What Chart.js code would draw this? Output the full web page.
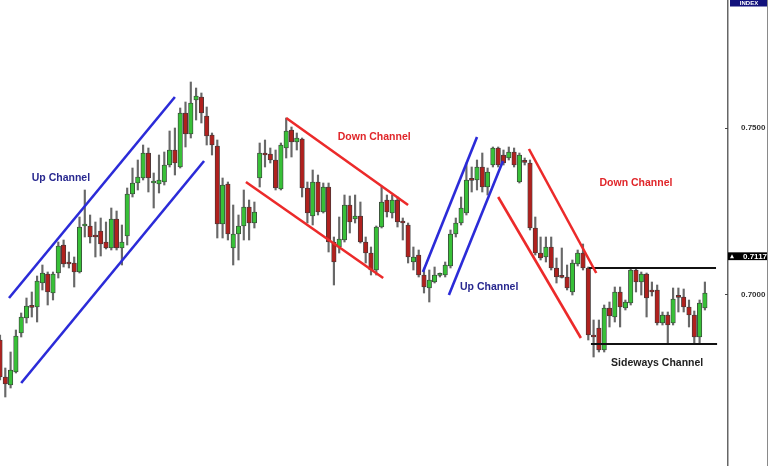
<!DOCTYPE html>
<html><head><meta charset="utf-8">
<script src="https://cdn.jsdelivr.net/npm/chart.js@4.4.0/dist/chart.umd.min.js"></script>
<style>html,body{margin:0;padding:0;background:#fff;overflow:hidden}#wrap{width:768px;height:466px;position:relative}</style>
</head><body><div id="wrap"><canvas id="c" width="768" height="466"></canvas></div>
<script>
// ---- candle data (price) ----
const open=[0.6863,0.6752,0.6728,0.6767,0.6884,0.6929,0.6962,0.6962,0.7034,0.7061,
0.7004,0.7064,0.7148,0.7094,0.7094,0.7067,0.7205,0.7205,0.7175,0.7190,
0.7157,0.7139,0.7226,0.7139,0.7175,0.7301,0.7334,0.7349,0.7424,0.7334,
0.7331,0.7337,0.7388,0.7433,0.7382,0.7544,0.7481,0.7583,0.7592,0.7535,
0.7478,0.7445,0.7211,0.7331,0.7139,0.7181,0.7205,0.7262,0.7214,0.7349,
0.7421,0.7421,0.7403,0.7316,0.7439,0.7493,0.7457,0.7466,0.7319,0.7235,
0.7337,0.7247,0.7322,0.7157,0.7142,0.7163,0.7268,0.7226,0.7235,0.7157,
0.7124,0.7073,0.7202,0.7283,0.7244,0.7283,0.7217,0.7208,0.7097,0.7118,
0.7058,0.7019,0.7037,0.7057,0.7058,0.7085,0.7181,0.7214,0.7244,0.7343,
0.7343,0.7382,0.7322,0.7388,0.7439,0.7418,0.7409,0.7427,0.7337,0.7397,
0.7394,0.7199,0.7124,0.7112,0.7142,0.7079,0.7052,0.7052,0.7007,0.7091,
0.7124,0.7079,0.6875,0.6899,0.6833,0.6959,0.6932,0.7007,0.6959,0.6974,
0.7073,0.7037,0.7061,0.7010,0.7013,0.6914,0.6938,0.6914,0.6992,0.6992,
0.6962,0.6938,0.6872,0.6959];
const high=[0.6878,0.6779,0.6827,0.6893,0.6944,0.6989,0.7007,0.7055,0.7088,0.7067,
0.7067,0.7157,0.7163,0.7127,0.7112,0.7232,0.7313,0.7238,0.7217,0.7229,
0.7217,0.7259,0.7250,0.7208,0.7319,0.7379,0.7403,0.7448,0.7439,0.7364,
0.7418,0.7427,0.7490,0.7499,0.7559,0.7577,0.7637,0.7619,0.7604,0.7562,
0.7484,0.7463,0.7349,0.7337,0.7268,0.7238,0.7313,0.7283,0.7277,0.7454,
0.7463,0.7439,0.7433,0.7454,0.7529,0.7502,0.7484,0.7469,0.7337,0.7373,
0.7358,0.7334,0.7334,0.7172,0.7232,0.7298,0.7295,0.7298,0.7277,0.7172,
0.7142,0.7205,0.7322,0.7298,0.7298,0.7292,0.7229,0.7214,0.7142,0.7133,
0.7079,0.7073,0.7082,0.7064,0.7097,0.7193,0.7229,0.7292,0.7394,0.7382,
0.7403,0.7424,0.7379,0.7442,0.7442,0.7433,0.7442,0.7439,0.7424,0.7409,
0.7403,0.7232,0.7172,0.7172,0.7172,0.7109,0.7139,0.7088,0.7103,0.7133,
0.7151,0.7082,0.6923,0.6923,0.6968,0.6977,0.7022,0.7022,0.6983,0.7079,
0.7079,0.7067,0.7064,0.7037,0.7028,0.6947,0.6947,0.7019,0.7019,0.7016,
0.6983,0.6950,0.6983,0.7037];
const low=[0.6743,0.6692,0.6719,0.6764,0.6872,0.6914,0.6932,0.6917,0.7013,0.6968,
0.6983,0.7049,0.7082,0.7079,0.7022,0.7064,0.7172,0.7154,0.7112,0.7115,
0.7136,0.7133,0.7133,0.7088,0.7148,0.7292,0.7313,0.7343,0.7307,0.7259,
0.7304,0.7328,0.7382,0.7358,0.7379,0.7442,0.7469,0.7523,0.7514,0.7448,
0.7418,0.7169,0.7169,0.7163,0.7088,0.7103,0.7163,0.7163,0.7199,0.7322,
0.7382,0.7394,0.7313,0.7313,0.7409,0.7412,0.7433,0.7292,0.7214,0.7208,
0.7238,0.7244,0.7127,0.7028,0.7124,0.7157,0.7184,0.7214,0.7154,0.7094,
0.7058,0.7058,0.7199,0.7232,0.7229,0.7202,0.7163,0.7094,0.7073,0.7052,
0.7004,0.6977,0.7034,0.7052,0.7052,0.7079,0.7172,0.7208,0.7238,0.7307,
0.7313,0.7307,0.7298,0.7382,0.7382,0.7388,0.7403,0.7382,0.7334,0.7388,
0.7193,0.7118,0.7103,0.7097,0.7073,0.7034,0.7049,0.7013,0.6998,0.7085,
0.7073,0.6863,0.6812,0.6827,0.6827,0.6902,0.6917,0.6902,0.6953,0.6968,
0.7007,0.6998,0.6932,0.6995,0.6908,0.6908,0.6854,0.6908,0.6947,0.6947,
0.6902,0.6854,0.6854,0.6953];
const close=[0.6752,0.6731,0.6773,0.6875,0.6932,0.6965,0.6961,0.7040,0.7064,0.7007,
0.7061,0.7145,0.7091,0.7091,0.7067,0.7202,0.7208,0.7172,0.7172,0.7151,
0.7139,0.7226,0.7139,0.7157,0.7301,0.7334,0.7352,0.7424,0.7349,0.7337,
0.7343,0.7388,0.7433,0.7394,0.7544,0.7481,0.7574,0.7595,0.7544,0.7475,
0.7448,0.7211,0.7328,0.7181,0.7181,0.7205,0.7262,0.7214,0.7247,0.7424,
0.7418,0.7403,0.7319,0.7448,0.7490,0.7457,0.7469,0.7319,0.7244,0.7337,
0.7247,0.7322,0.7157,0.7097,0.7166,0.7268,0.7217,0.7235,0.7157,0.7124,
0.7073,0.7202,0.7277,0.7247,0.7283,0.7217,0.7214,0.7112,0.7112,0.7058,
0.7022,0.7043,0.7058,0.7058,0.7088,0.7181,0.7214,0.7259,0.7343,0.7342,
0.7382,0.7322,0.7367,0.7439,0.7388,0.7394,0.7427,0.7388,0.7418,0.7396,
0.7199,0.7124,0.7109,0.7142,0.7079,0.7052,0.7051,0.7019,0.7094,0.7124,
0.7079,0.6878,0.6872,0.6833,0.6959,0.6935,0.7007,0.6962,0.6977,0.7073,
0.7037,0.7061,0.6989,0.7007,0.6914,0.6938,0.6908,0.6986,0.6991,0.6962,
0.6938,0.6872,0.6974,0.7004];

// ---- axis ----
const yLabelledTicks=[0.75,0.70];
const yMin=0.6485, yMax=0.7883, yStep=0.01;
const lastPrice=0.7117;

// ---- channel lines (candle index, price) ----
const channelKinds=['up','up','down','down','up','up','down','down','side','side'];
const channelStartIdx=[1.7,4.0,54.0,46.4,79.8,84.7,99.8,94.0,111.1,111.5];
const channelStartPrice=[0.6989,0.6734,0.7529,0.7337,0.7067,0.6998,0.7436,0.7292,0.7079,0.6851];
const channelEndIdx=[33.0,38.5,77.0,72.3,90.0,94.9,112.5,109.6,135.1,135.3];
const channelEndPrice=[0.7592,0.7400,0.7268,0.7049,0.7472,0.7400,0.7064,0.6869,0.7079,0.6851];

// ---- notes ----
const noteText=['Up Channel','Down Channel','Up Channel','Down Channel','Sideways Channel'];
const noteKinds=['up','down','up','down','side'];
const noteIdx=[11.5,70.6,92.3,120.0,124.0];
const notePrice=[0.7350,0.7471,0.7023,0.7333,0.6795];

// ---- styles ----
const lineColor={up:'#2b2bd8',down:'#ec2a2a',side:'#111111'};
const textColor={up:'#28288f',down:'#e0262a',side:'#222222'};
const FONT='"Liberation Sans", Arial, sans-serif';

const idx=open.map((_,i)=>i);
const wickData=idx.map(i=>({x:i,y:[low[i],high[i]]}));
const bodyData=idx.map(i=>({x:i,y:[Math.min(open[i],close[i]),Math.max(open[i],close[i])]}));
const bodyColors=idx.map(i=>close[i]>=open[i]?'#38c038':'#b0211e');

const lineSets=channelKinds.map((k,i)=>({
  type:'line',
  data:[{x:channelStartIdx[i],y:channelStartPrice[i]},{x:channelEndIdx[i],y:channelEndPrice[i]}],
  borderColor:lineColor[k],borderWidth:k==='side'?2.2:2.6,pointRadius:0,fill:false,tension:0,order:1
}));

const deco={
  id:'deco',
  afterDatasetsDraw(chart){
    const {ctx,scales:{x,y}}=chart;
    ctx.save();
    ctx.font='bold 10.5px '+FONT;
    ctx.textAlign='center';ctx.textBaseline='middle';
    noteText.forEach((t,i)=>{
      ctx.fillStyle=textColor[noteKinds[i]];
      ctx.fillText(t,x.getPixelForValue(noteIdx[i]),y.getPixelForValue(notePrice[i]));
    });
    ctx.restore();
  },
  afterDraw(chart){
    const {ctx,scales:{y},chartArea:a}=chart;
    const W=chart.width;
    ctx.save();
    ctx.strokeStyle='#444';ctx.lineWidth=1;
    y.ticks.forEach(t=>{
      const v=t.value*100;
      if(Math.abs(v-Math.round(v))<1e-6){
        const py=Math.round(y.getPixelForValue(t.value))+0.5;
        ctx.beginPath();ctx.moveTo(a.right-3,py);ctx.lineTo(a.right,py);ctx.stroke();
      }
    });
    const py=y.getPixelForValue(lastPrice);
    ctx.fillStyle='#000';ctx.fillRect(a.right,py-3,W-a.right,7.8);
    ctx.fillStyle='#fff';
    ctx.beginPath();ctx.moveTo(a.right+2,py+3);ctx.lineTo(a.right+6,py+3);ctx.lineTo(a.right+4,py-1);ctx.closePath();ctx.fill();
    ctx.font='bold 8px '+FONT;ctx.textAlign='left';ctx.textBaseline='middle';
    ctx.fillText(lastPrice.toFixed(4),a.right+15,py+1);
    ctx.fillStyle='#12127c';ctx.fillRect(a.right+2,0,W-a.right-2,6.5);
    ctx.fillStyle='#fff';ctx.font='bold 6px '+FONT;ctx.textAlign='center';
    ctx.fillText('INDEX',(a.right+2+W)/2,3.5);
    ctx.strokeStyle='#8a8a8a';ctx.lineWidth=1;
    ctx.beginPath();ctx.moveTo(W-0.5,0);ctx.lineTo(W-0.5,chart.height);ctx.stroke();
    ctx.restore();
  }
};

new Chart(document.getElementById('c'),{
  type:'bar',
  data:{datasets:[
    {type:'bar',data:wickData,backgroundColor:'#686868',borderWidth:0,barThickness:1.5,grouped:false,order:3},
    {type:'bar',data:bodyData,backgroundColor:bodyColors,borderColor:'#3a3a3a',borderWidth:0.8,borderSkipped:false,barThickness:4.5,minBarLength:2,grouped:false,order:2},
    ...lineSets
  ]},
  options:{
    responsive:false,animation:false,
    layout:{padding:0},
    plugins:{legend:{display:false},tooltip:{enabled:false}},
    scales:{
      x:{type:'linear',display:false,min:0,max:137.36,offset:false,grid:{offset:false}},
      y:{type:'linear',position:'right',min:yMin,max:yMax,beginAtZero:false,
        afterFit(s){s.width=40;s.paddingTop=0;s.paddingBottom=0;},
        ticks:{stepSize:yStep,autoSkip:false,padding:13,color:'#333',
          font:{family:FONT,size:8,weight:'bold'},
          callback(v){return yLabelledTicks.some(t=>Math.abs(t-v)<1e-6)?Number(v).toFixed(4):null;}},
        grid:{drawOnChartArea:false,drawTicks:false},
        border:{display:true,color:'#666',width:1.5}}
    }
  },
  plugins:[deco]
});
</script></body></html>
